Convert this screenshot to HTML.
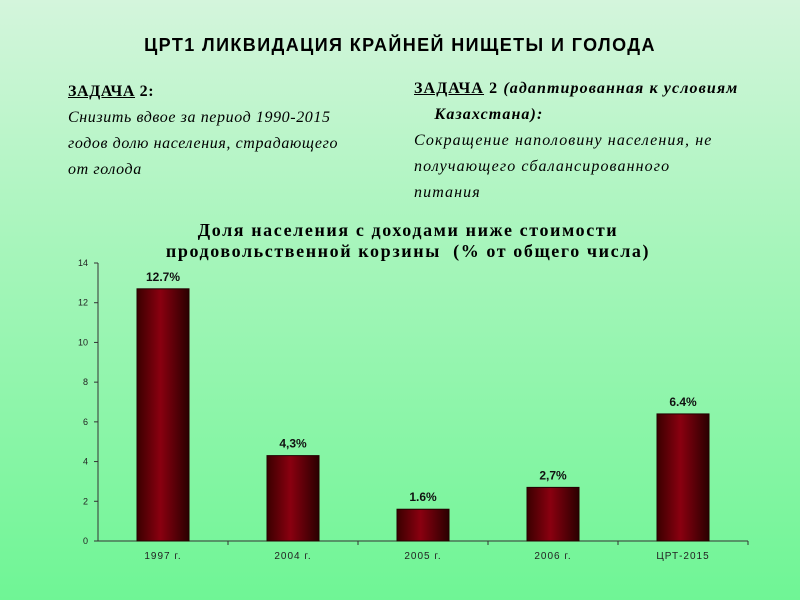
<!DOCTYPE html>
<html><head><meta charset="utf-8"><style>
body{margin:0;width:800px;height:600px;overflow:hidden;background:linear-gradient(#d4f5dc 0%,#a8f5bc 40%,#6ff595 100%);font-family:"Liberation Sans",sans-serif;position:relative}
.t{position:absolute;white-space:nowrap}
.ser{font-family:"Liberation Serif",serif;font-size:16px;line-height:26px}
</style></head><body>
<div class="t" style="left:0;width:800px;top:35px;text-align:center;font-weight:bold;font-size:18px;letter-spacing:1.4px">ЦРТ1 ЛИКВИДАЦИЯ КРАЙНЕЙ НИЩЕТЫ И ГОЛОДА</div>
<div class="t ser" style="left:68px;top:79px;letter-spacing:0.6px"><b><u>ЗАДАЧА</u> 2:</b><br><i>Снизить вдвое за период 1990-2015<br>годов долю населения, страдающего<br>от голода</i></div>
<div class="t ser" style="left:414px;top:76px;letter-spacing:1.1px"><b><u>ЗАДАЧА</u> 2 <i>(адаптированная к условиям<br>&nbsp;&nbsp;&nbsp;&nbsp;Казахстана):</i></b><br><i>Сокращение наполовину населения, не<br>получающего сбалансированного<br>питания</i></div>
<div class="t" style="left:108px;width:600px;top:220px;text-align:center;font-family:'Liberation Serif',serif;font-weight:bold;font-size:18px;letter-spacing:1.6px;line-height:21px">Доля населения с доходами ниже стоимости<br>продовольственной корзины&nbsp; (% от общего числа)</div>
<svg id="c" width="800" height="600" style="position:absolute;left:0;top:0">
<defs><linearGradient id="g" x1="0" x2="1"><stop offset="0" stop-color="#3a0000"/><stop offset="0.45" stop-color="#8a0010"/><stop offset="1" stop-color="#2a0000"/></linearGradient></defs>
</svg>
<script>
const categories=["1997 г.","2004 г.","2005 г.","2006 г.","ЦРТ-2015"];
const values=[12.7,4.3,1.6,2.7,6.4];
const valueLabels=["12.7%","4,3%","1.6%","2,7%","6.4%"];
const yTicks=[0,2,4,6,8,10,12,14];
const svg=document.getElementById('c');const NS='http://www.w3.org/2000/svg';
const x0=98,x1=748,yb=541,yt=263,ymax=14;
const y=v=>yb-(v/ymax)*(yb-yt);
const bw=(x1-x0)/categories.length;
const cx=i=>x0+bw*(i+0.5);
function el(t,a,txt){const e=document.createElementNS(NS,t);for(const k in a)e.setAttribute(k,a[k]);if(txt!=null)e.textContent=txt;svg.appendChild(e);return e;}
let ax=el('line',{x1:x0,y1:yt,x2:x0,y2:yb,stroke:'#333'});


let xa=el('line',{x1:x0,y1:yb,x2:x1,y2:yb,stroke:'#333'});


yTicks.forEach(t=>{
 el('line',{x1:x0-4,y1:y(t),x2:x0,y2:y(t),stroke:'#333'});
 let l=el('text',{x:x0-10,y:y(t)+3,'text-anchor':'end','font-size':9,fill:'#222'},t);
 
 
});
categories.forEach((c,i)=>{
 el('line',{x1:x0+bw*(i+1),y1:yb,x2:x0+bw*(i+1),y2:yb+4,stroke:'#333'});
 let r=el('rect',{x:cx(i)-26,y:y(values[i]),width:52,height:yb-y(values[i]),fill:'url(#g)',stroke:'#200'});
 
 
 let v=el('text',{x:cx(i),y:y(values[i])-8,'text-anchor':'middle','font-size':12,'font-weight':'bold',fill:'#111'},valueLabels[i]);
 
 
 let l=el('text',{x:cx(i),y:yb+18,'text-anchor':'middle','font-size':10,'letter-spacing':'1',fill:'#222'},c);
 
 
});
</script>
</body></html>
